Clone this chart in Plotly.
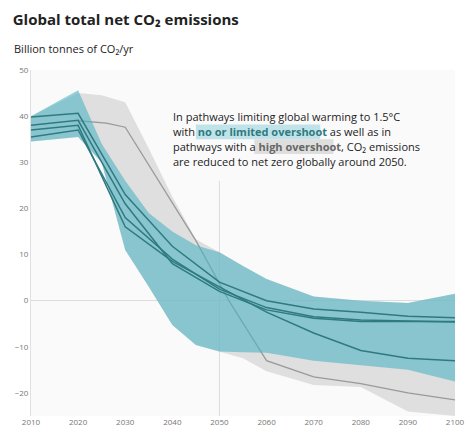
import plotly.graph_objects as go

years = [2010, 2020, 2025, 2030, 2035, 2040, 2045, 2050, 2055, 2060, 2070, 2080, 2090, 2100]
teal_upper = [40, 45.6, 34, 26, 19, 15, 12, 10.5, 7.5, 4.7, 0.9, 0, -0.5, 1.5]
teal_lower = [34.5, 35.5, 30, 11, 3, -5.3, -9.6, -11, -11.2, -11.3, -13, -14, -15, -17.5]
grey_upper = [40, 45, 44.5, 43, 33, 22.5, 13.3, 10.5, 7.5, 4.7, 0.9, 0, -0.5, 1.5]
grey_lower = [34.5, 35.5, 30, 11, 3, -5.3, -9.6, -11, -12.5, -15.3, -18.3, -18.7, -24, -25]

line_years = [2010, 2020, 2030, 2040, 2050, 2060, 2070, 2080, 2090, 2100]
teal_lines = [
    [39.8, 40.6, 23, 11.8, 4, 0, -1.8, -2.5, -3.4, -3.7],
    [38, 39.1, 21, 8, 2, -2, -3.8, -4.5, -4.5, -4.5],
    [37, 38, 16, 8.5, 3, -2.5, -7, -10.8, -12.5, -13],
    [35.5, 37, 18, 9, 2.5, -1.5, -3.5, -4.2, -4.4, -4.6],
]
grey_line_years = [2020, 2026, 2030, 2040, 2045, 2052, 2060, 2070, 2080, 2090, 2100]
grey_line = [39, 38.5, 37.6, 21, 13, 0, -13, -16.5, -18, -20, -21.5]

text_lines = [
    "In pathways limiting global warming to 1.5°C",
    "with <b><span style='color:#2f7a80'>no or limited overshoot</span></b> as well as in",
    "pathways with a <b><span style='color:#666'>high overshoot</span></b>, CO₂ emissions",
    "are reduced to net zero globally around 2050.",
]
text_y = [39.9, 36.6, 33.4, 30.2]

fig = go.Figure()
fig.add_trace(go.Scatter(x=years, y=grey_upper, mode="lines", line=dict(width=0), hoverinfo="skip"))
fig.add_trace(go.Scatter(x=years, y=grey_lower, mode="lines", line=dict(width=0), fill="tonexty",
                         fillcolor="rgba(200,200,200,0.55)", hoverinfo="skip"))
fig.add_trace(go.Scatter(x=grey_line_years, y=grey_line, mode="lines", line=dict(color="#9a9a9a", width=1.3)))
fig.add_trace(go.Scatter(x=years, y=teal_upper, mode="lines", line=dict(width=0), hoverinfo="skip"))
fig.add_trace(go.Scatter(x=years, y=teal_lower, mode="lines", line=dict(width=0), fill="tonexty",
                         fillcolor="rgba(80,180,195,0.6)", hoverinfo="skip"))
for ln in teal_lines:
    fig.add_trace(go.Scatter(x=line_years, y=ln, mode="lines", line=dict(color="#2f7a80", width=1.5)))

fig.add_shape(type="line", x0=2050, x1=2050, y0=-25, y1=26, line=dict(color="#dddddd", width=1), layer="below")
fig.add_shape(type="rect", x0=2045.0, x1=2071.4, y0=35.0, y1=38.2, fillcolor="#bfe3e8", line=dict(width=0), layer="below")
fig.add_shape(type="rect", x0=2057.4, x1=2074.2, y0=31.8, y1=35.0, fillcolor="#dedede", line=dict(width=0), layer="below")

for t, yy in zip(text_lines, text_y):
    fig.add_annotation(x=2039.7, y=yy, xanchor="left", yanchor="middle", align="left", showarrow=False,
                       text=t, font=dict(family="Open Sans", size=11, color="#222"))

fig.add_annotation(text="Billion tonnes of CO₂/yr", xref="paper", yref="paper", x=-0.045, y=1.035,
                   xanchor="left", yanchor="bottom", showarrow=False, font=dict(size=11, color="#222"))

fig.update_layout(
    width=474, height=436, showlegend=False,
    margin=dict(l=23, r=27, t=62, b=28),
    paper_bgcolor="white", plot_bgcolor="#fafafa",
    font=dict(family="Open Sans", color="#555"),
    title=dict(text="<b>Global total net CO₂ emissions</b>", x=0.01, xanchor="left", y=0.985, yanchor="top",
               font=dict(size=15, color="#222")),
    xaxis=dict(range=[2010, 2100], tickvals=list(range(2010, 2101, 10)), showgrid=False, zeroline=False,
               tickfont=dict(size=8, color="#777"), showline=False, automargin=False),
    yaxis=dict(range=[-25, 50], tickvals=[-20, -10, 0, 10, 20, 30, 40, 50], showgrid=False,
               zeroline=True, zerolinecolor="#dddddd", zerolinewidth=1, automargin=False,
               showline=True, linecolor="#e0e0e0", tickfont=dict(size=8, color="#777")),
)
fig.write_html("out.html")
